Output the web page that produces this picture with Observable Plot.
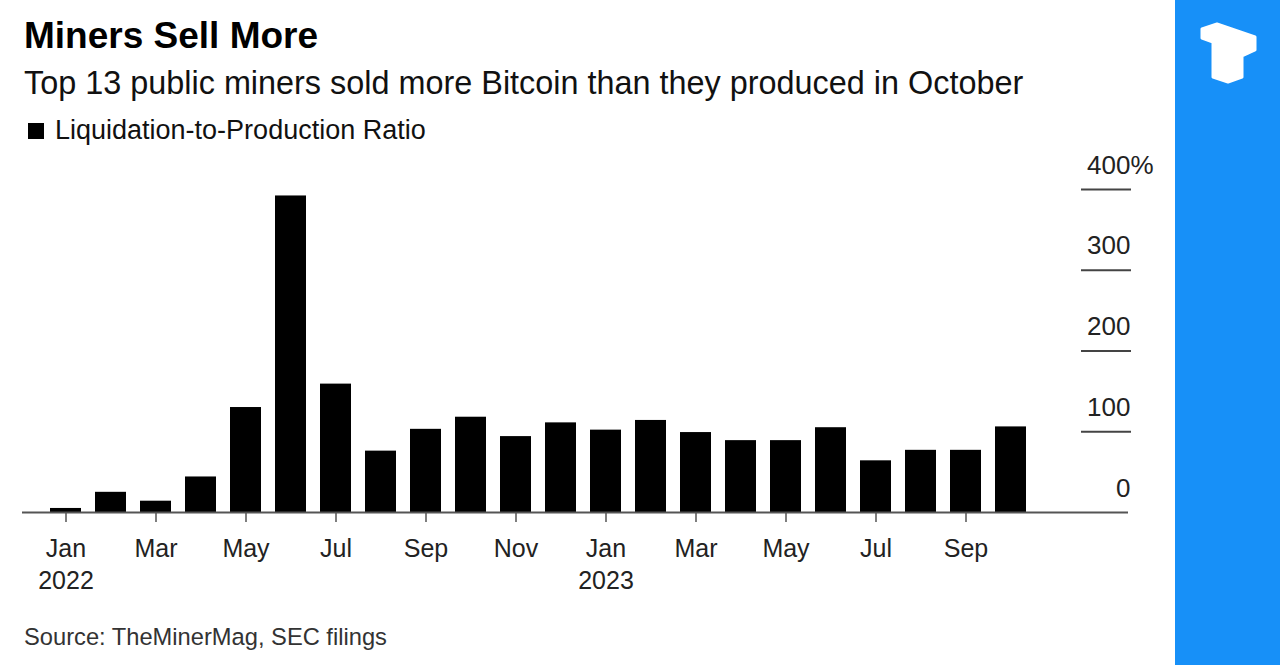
<!DOCTYPE html>
<html>
<head>
<meta charset="utf-8">
<script src="https://cdn.jsdelivr.net/npm/d3@7"></script>
<script src="https://cdn.jsdelivr.net/npm/@observablehq/plot@0.6"></script>
<style>
  html, body { margin: 0; padding: 0; background: #fff; }
  #wrap { position: relative; width: 1280px; height: 665px; overflow: hidden; font-family: "Liberation Sans", Arial, sans-serif; color: #000; background: #fff; }
  #title { position: absolute; left: 24px; top: 17px; font-size: 37px; font-weight: bold; line-height: 1; white-space: nowrap; }
  #subtitle { position: absolute; left: 24px; top: 67px; font-size: 32.4px; line-height: 1; white-space: nowrap; color: #111; }
  #legend-swatch { position: absolute; left: 28px; top: 123px; width: 16px; height: 16px; background: #000; }
  #legend-text { position: absolute; left: 55px; top: 117px; font-size: 27px; line-height: 1; white-space: nowrap; color: #111; }
  #chart { position: absolute; left: 0; top: 145px; }
  #source { position: absolute; left: 24px; top: 626px; font-size: 23.7px; line-height: 1; color: #333; white-space: nowrap; }
  #band { position: absolute; left: 1175px; top: 0; width: 105px; height: 665px; background: #1790f8; }
  #logo { position: absolute; left: 0; top: 0; }
</style>
</head>
<body>
<div id="wrap">
  <div id="title">Miners Sell More</div>
  <div id="subtitle">Top 13 public miners sold more Bitcoin than they produced in October</div>
  <div id="legend-swatch"></div>
  <div id="legend-text">Liquidation-to-Production Ratio</div>
  <div id="chart"></div>
  <div id="source">Source: TheMinerMag, SEC filings</div>
  <div id="band">
    <svg id="logo" width="105" height="120" viewBox="1175 0 105 120">
      <polygon points="1202,29 1217,24 1255,37 1255,50 1242,56 1242,77 1228,82 1213,77 1213,42 1202,38"
        fill="#fff" stroke="#fff" stroke-width="3" stroke-linejoin="round"/>
    </svg>
  </div>
</div>
<script>
const months = ["2022-01","2022-02","2022-03","2022-04","2022-05","2022-06","2022-07","2022-08","2022-09","2022-10","2022-11","2022-12",
                "2023-01","2023-02","2023-03","2023-04","2023-05","2023-06","2023-07","2023-08","2023-09","2023-10"];
const ratio = [5, 25, 14, 44, 130, 392, 159, 76, 103, 118, 94, 111,
               102, 114, 99, 89, 89, 105, 64, 77, 77, 106];
const monthNames = ["Jan","Feb","Mar","Apr","May","Jun","Jul","Aug","Sep","Oct","Nov","Dec"];
const xTicks = months.filter((d, i) => i % 2 === 0);
const yTicks = [0, 100, 200, 300, 400];
const yTickLines = [100, 200, 300, 400];

const data = months.map((m, i) => ({month: m, ratio: ratio[i]}));

function fmtMonth(m) {
  const [y, mo] = m.split("-").map(Number);
  const name = monthNames[mo - 1];
  return mo === 1 ? name + "\n" + y : name;
}

const chart = Plot.plot({
  width: 1175,
  height: 460,
  marginTop: 44,
  marginBottom: 93,
  marginLeft: 22,
  marginRight: 47,
  style: {fontFamily: "Liberation Sans, Arial, sans-serif", background: "transparent", color: "#222"},
  x: {type: "band", domain: months, range: [43.5, 1033.5], paddingInner: 0.3, paddingOuter: 0.15},
  y: {domain: [0, 400]},
  marks: [
    Plot.barY(data, {x: "month", y: "ratio", fill: "#000"}),
    Plot.ruleY([0], {stroke: "#555", strokeWidth: 2}),
    Plot.axisX({ticks: xTicks, tickSize: 10, tickPadding: 12, tickFormat: fmtMonth, fontSize: 25, lineHeight: 1.28,
                stroke: "#555", strokeWidth: 1.5, fill: "#222", label: null}),
    Plot.axisY({anchor: "right", ticks: yTickLines, tickSize: 50, dx: -48, tickFormat: () => "", label: null,
                stroke: "#444", strokeWidth: 2}),
    Plot.text(yTicks, {y: d => d, text: d => String(d), frameAnchor: "right", textAnchor: "end", lineAnchor: "bottom",
                       dx: 2, dy: -16, fontSize: 26, fill: "#222"}),
    Plot.text([400], {y: d => d, text: () => "%", frameAnchor: "right", textAnchor: "start", lineAnchor: "bottom",
                      dx: 2, dy: -16, fontSize: 26, fill: "#222"})
  ]
});
document.getElementById("chart").appendChild(chart);
</script>
</body>
</html>
